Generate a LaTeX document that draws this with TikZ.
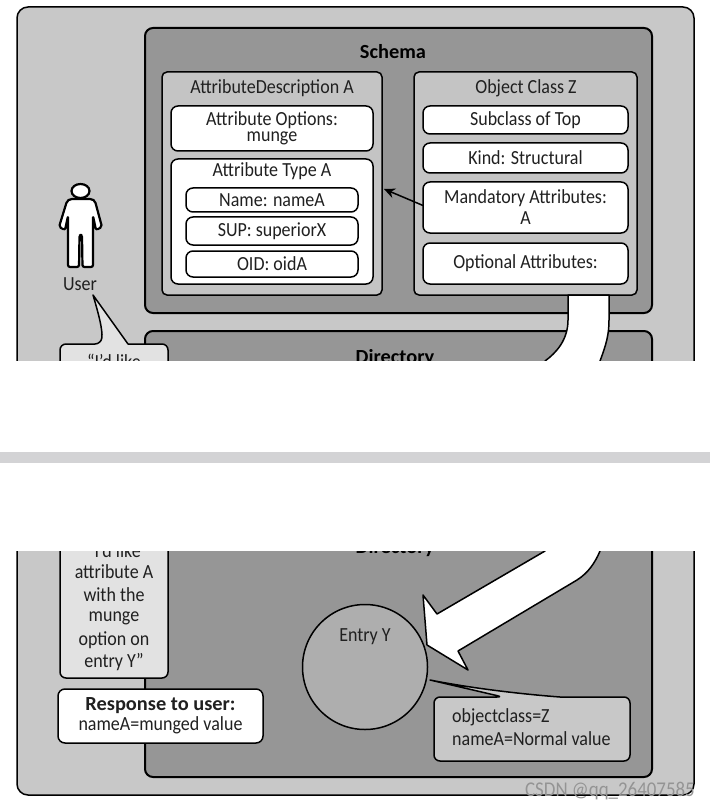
\documentclass[tikz,border=0pt]{standalone}
\usepackage{fontspec}
\setmainfont[FakeStretch=0.9,BoldFeatures={FakeStretch=1.02}]{Carlito}
\usetikzlibrary{arrows.meta,shapes.geometric}
\definecolor{outerc}{HTML}{C8C8C8}
\definecolor{panelc}{HTML}{969696}
\definecolor{innerc}{HTML}{C4C4C4}
\definecolor{circc}{HTML}{AEAEAE}
\definecolor{callc}{HTML}{E2E2E2}
\definecolor{bandc}{HTML}{D3D3D5}
\definecolor{inkc}{HTML}{202020}
\newcommand{\txtf}{\fontsize{20}{20}\selectfont}
\tikzset{
  rbox/.style={draw=black,line width=1.5pt,rounded corners=5pt,inner sep=0pt,outer sep=0pt,align=center,font=\txtf,text=inkc},
  outerbox/.style={rbox,fill=outerc,rounded corners=11pt},
  panelbox/.style={rbox,fill=panelc,line width=2pt,rounded corners=8pt},
  innerbox/.style={rbox,fill=innerc},
  whitebox/.style={rbox,fill=white,rounded corners=7pt},
  lbl/.style={font=\txtf,text=inkc,inner sep=0pt,align=center},
  titlelbl/.style={lbl,font=\txtf\bfseries,text=black},
  flow/.style={draw=black,line width=1.5pt,fill=white,line join=round},
  callout/.style={draw=black,line width=1.5pt,fill=callc,line join=round}
}
\newcommand{\pbox}[7]{%
  \pgfmathsetmacro{\cxx}{(#3+#5)/2}\pgfmathsetmacro{\cyy}{(#4+#6)/2}%
  \pgfmathsetmacro{\www}{#5-#3}\pgfmathsetmacro{\hhh}{#6-#4}%
  \node[#2,minimum width=\www pt,minimum height=\hhh pt] (#1) at (\cxx,\cyy) {#7};}
\begin{document}
\begin{tikzpicture}[x=1pt,y=-1pt]
\useasboundingbox (0,0) rectangle (710,810);
\fill[white] (0,0) rectangle (710,810);
\fill[bandc] (0,452) rectangle (710,463);
% ---- upper half
\begin{scope}
\clip (0,0) rectangle (710,360);
\pbox{outerA}{outerbox}{17}{7}{694}{600}{}
\pbox{schema}{panelbox}{145}{28}{652}{313}{}
\node[titlelbl] (schematitle) at (393,52) {Schema};
\pbox{attrdesc}{innerbox}{162}{72}{382}{295}{}
\node[lbl] (attrdesctitle) at (272,88) {AttributeDescription A};
\pbox{options}{whitebox}{171}{106}{373}{151}{\raisebox{-1.5pt}{Attribute Options:}\\[-4pt]\raisebox{-1.5pt}{munge}}
\pbox{atype}{whitebox}{171}{159}{373}{284}{}
\node[lbl] (atypetitle) at (272,171) {Attribute Type A};
\pbox{aname}{whitebox}{186}{188}{358}{212}{Name: nameA}
\pbox{asup}{whitebox}{186}{217}{358}{245}{\raisebox{-1pt}{SUP: superiorX}}
\pbox{aoid}{whitebox}{186}{251}{358}{277}{OID: oidA}
\pbox{objclass}{innerbox}{414}{72}{637}{295}{}
\node[lbl] (objclasstitle) at (526,88) {Object Class Z};
\pbox{subclass}{whitebox}{423}{106}{628}{134}{\raisebox{-1.5pt}{Subclass of Top}}
\pbox{kind}{whitebox}{423}{143}{628}{173}{Kind: Structural}
\pbox{mand}{whitebox}{423}{182}{628}{233}{Mandatory Attributes:\\[1pt]A}
\pbox{optl}{whitebox}{423}{243}{628}{284}{\raisebox{-1.5pt}{Optional Attributes:}}
\coordinate (arrowend) at (384,189);
\draw[line width=1.5pt,-{Stealth[length=11pt,width=10pt]}] (mand.west) ++(0,-2) -- (arrowend);
\pbox{directoryA}{panelbox}{145}{331}{652}{600}{}
\node[titlelbl] (dirtitleA) at (395,358) {Directory};
\draw[flow] (568,295) -- (568,320) .. controls (568,340) and (556,353) .. (545,361)
  -- (545,380) -- (600,380) -- (600,361) .. controls (606,345) and (609,335) .. (609,320) -- (609,295) -- cycle;
% figure
\node[draw=black,line width=2.2pt,fill=white,ellipse,minimum width=18pt,minimum height=14pt,inner sep=0pt] (head) at (80.5,191) {};
\draw[line width=2.2pt,fill=white,line join=round,rounded corners=2pt] (70,199) -- (67,201) -- (59,227) -- (65,230) -- (68,216) -- (68,267) -- (79,267) -- (79.5,235) -- (82,235) -- (82.5,267) -- (93,267) -- (93,216) -- (96,230) -- (102,227) -- (95,201) -- (92,199) -- cycle;
\node[lbl] (userlabel) at (80,284) {User};
% callout top
\draw[callout] (60,420) [rounded corners=6pt] -- (60,344) -- (101,344) [sharp corners] .. controls (103,330) and (98,312) .. (93,295) -- (128,344) [rounded corners=6pt] -- (168,344) -- (168,420) -- cycle;
\node[lbl] (calltop) at (114,361) {“I’d like};
\end{scope}
% ---- lower half
\begin{scope}
\clip (0,551) rectangle (710,810);
\pbox{outerB}{outerbox}{17}{500}{694}{795}{}
\pbox{directoryB}{panelbox}{145}{500}{652}{777}{}
\node[titlelbl] (dirtitleB) at (395,548) {Directory};
\draw[flow] (545,530) -- (545,551) -- (437,614) -- (423,595) -- (427,645) -- (468,670) -- (458,651) -- (577,580) .. controls (588,573) and (595,563) .. (600,551) -- (600,530) -- cycle;
\draw[draw=black,line width=1.5pt,fill=outerc,line join=round] (503,697) -- (430,680) .. controls (470,688) and (520,694) .. (560,697) [rounded corners=6pt] -- (630,697) -- (630,761) -- (434,761) -- (434,697) -- cycle;
\node[draw=black,line width=1.5pt,fill=circc,circle,minimum size=125pt,inner sep=0pt] (entry) at (365,667) {};
\node[lbl] (entrytitle) at (365,637) {Entry Y};
\node[lbl,anchor=west,align=left] (notel1) at (452,717) {objectclass=Z};
\node[lbl,anchor=west,align=left] (notel2) at (452,739) {nameA=Normal value};
\draw[callout] (60,500) [rounded corners=6pt] -- (60,678) -- (168,678) -- (168,500) [sharp corners] -- cycle;
\node[lbl] (callb1) at (114,550) {“I’d like};
\node[lbl] (callb2) at (114,572) {attribute A};
\node[lbl] (callb3) at (114,595) {with the};
\node[lbl] (callb4) at (114,618) {munge};
\node[lbl] (callb5) at (114,640) {option on};
\node[lbl] (callb6) at (114,662) {entry Y”};
\pbox{response}{whitebox}{58}{689}{263}{743}{{\txtf\bfseries Response to user:}\\{\txtf nameA=munged value}}
\node[font=\fontsize{21}{21}\selectfont,text=black!42,inner sep=0pt,anchor=east] (mark) at (695,791) {CSDN @qq\_26407585};
\end{scope}
\end{tikzpicture}
\end{document}
